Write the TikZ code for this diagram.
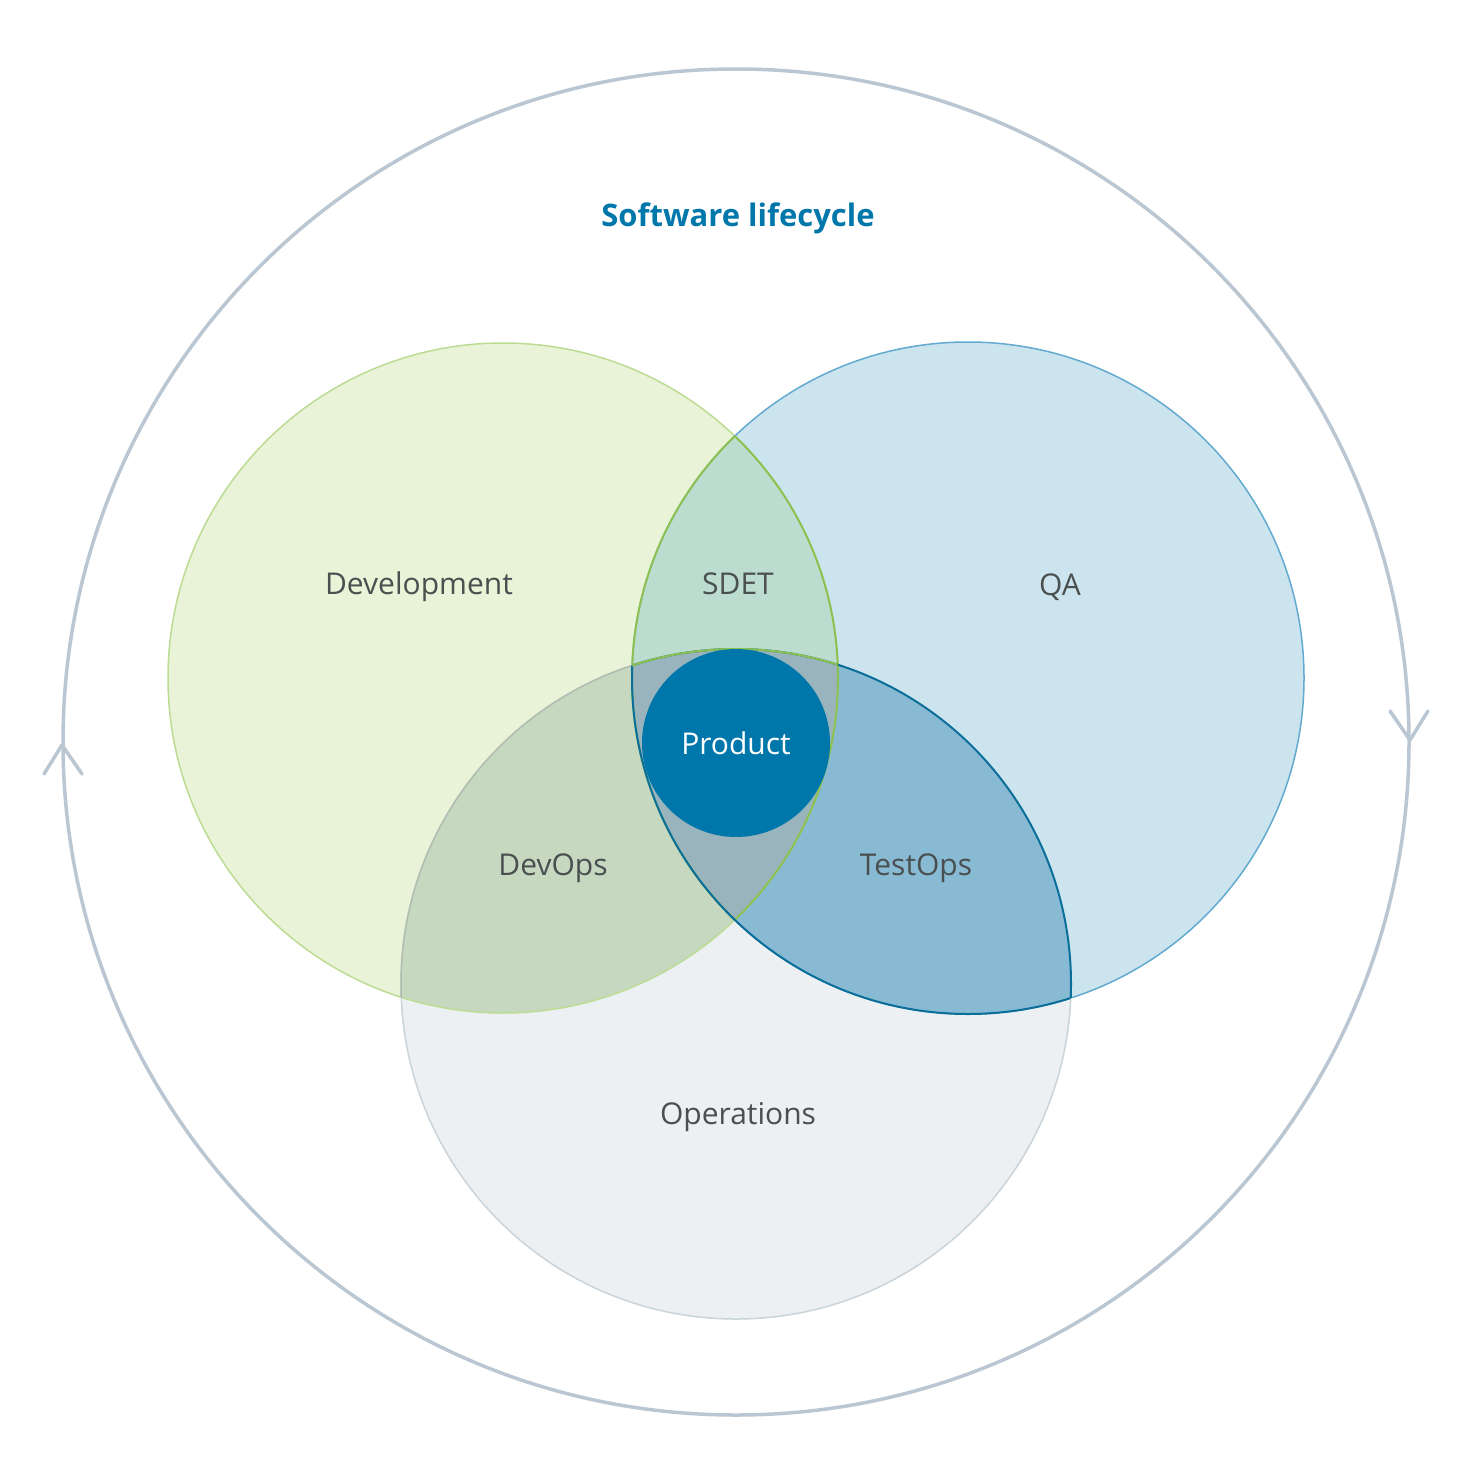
\documentclass[tikz,border=0pt]{standalone}
\usepackage{fontspec}
\setmainfont{Open Sans}
\begin{document}
\begin{tikzpicture}[x=1pt,y=-1pt,
  lbl/.style={text=labgray,font=\fontsize{30}{36}\selectfont},
  ring/.style={draw=ringc,line width=3.5pt}]
\definecolor{labgray}{HTML}{4A4F4F}
\definecolor{ringc}{HTML}{BAC7D3}
\definecolor{devf}{HTML}{E8F3D8}\definecolor{devs}{HTML}{BCDC94}
\definecolor{qaf}{HTML}{CCE4EE}\definecolor{qas}{HTML}{62AACF}
\definecolor{opsf}{HTML}{ECF0F3}\definecolor{opss}{HTML}{C9D4DB}
\definecolor{sdetf}{HTML}{BCDCD0}\definecolor{devopsf}{HTML}{C7D8C0}
\definecolor{testopsf}{HTML}{88BAD3}\definecolor{centf}{HTML}{99B4BC}
\definecolor{greens}{HTML}{8CC152}\definecolor{blues}{HTML}{0A6E9A}
\definecolor{prodc}{HTML}{0077AA}\definecolor{titlec}{HTML}{0077AA}
\useasboundingbox (0,0) rectangle (1460,1461);
\fill[white] (0,0) rectangle (1460,1461);
\def\dev{(503,678) circle (335)}
\def\qa{(968,678) circle (336)}
\def\ops{(736,984) circle (335)}
\draw[ring] (736,742) circle (673);
\draw[ring,line cap=round,line join=round] (44,774) -- (62,745) -- (82,774);
\draw[ring,line cap=round,line join=round] (1390,711) -- (1410,740) -- (1428,711);
\fill[devf] \dev; \fill[qaf] \qa; \fill[opsf] \ops;
\begin{scope}\clip \dev; \fill[sdetf] \qa; \fill[devopsf] \ops; \end{scope}
\begin{scope}\clip \qa; \fill[testopsf] \ops; \end{scope}
\begin{scope}\clip \dev; \clip \qa; \fill[centf] \ops; \end{scope}
\draw[devs,line width=1.5pt] \dev;
\draw[qas,line width=1.5pt] \qa;
\draw[opss,line width=1.5pt] \ops;
\begin{scope}\clip \dev; \draw[greens,line width=2pt] \qa; \end{scope}
\begin{scope}\clip \qa; \draw[greens,line width=2pt] \dev; \end{scope}
\begin{scope}\clip \dev; \draw[devopsf!70!gray,line width=1.5pt] \ops; \end{scope}
\begin{scope}\clip \qa; \draw[blues,line width=2pt] \ops; \end{scope}
\begin{scope}\clip \ops; \draw[blues,line width=2pt] \qa; \end{scope}
\begin{scope}\clip \dev; \clip \qa; \draw[greens,line width=2pt] \ops; \end{scope}
\node[circle,fill=prodc,minimum size=188pt,inner sep=0pt,text=white,font=\fontsize{30}{36}\selectfont] (prod) at (736,743) {Product};
\node[text=titlec,font=\fontsize{31}{36}\selectfont\bfseries] (title) at (738,218) {Software lifecycle};
\node[lbl] (devl) at (419,587) {Development};
\node[lbl] (sdet) at (738,584) {SDET};
\node[lbl] (qal) at (1060,587) {QA};
\node[lbl] (devops) at (553,868) {DevOps};
\node[lbl] (testops) at (916,868) {TestOps};
\node[lbl] (opsl) at (738,1117) {Operations};
\end{tikzpicture}
\end{document}
